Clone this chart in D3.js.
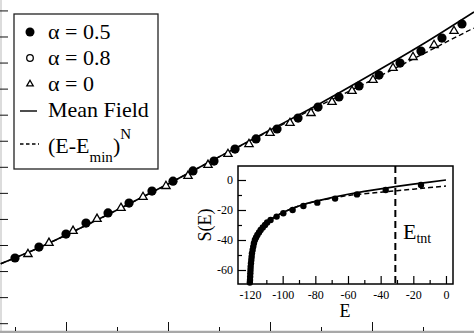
<!DOCTYPE html>
<html><head><meta charset="utf-8">
<script src="https://cdn.jsdelivr.net/npm/d3@7"></script>
<style>html,body{margin:0;padding:0;background:#fff;}svg{display:block;}
svg text{font-family:"Liberation Serif","Times New Roman",Times,"DejaVu Serif",serif !important;}</style>
</head><body>
<script>
// ---- main plot data (arbitrary units) ----
const circX = [0.5,0.735,1.0,1.196,1.412,1.618,1.843,2.049,2.245,2.451,2.657,2.863,3.069,3.275,3.471,3.676,3.873,4.069,4.275,4.480,4.686,4.882];
const circY = [2.50,2.92,3.42,3.84,4.23,4.61,5.07,5.45,5.84,6.22,6.68,7.07,7.45,7.87,8.29,8.68,9.10,9.52,9.98,10.44,10.94,11.48];
const triX = [0.627,0.833,1.069,1.304,1.539,1.755,1.980,2.196,2.392,2.588,2.794,3.0,3.196,3.402,3.608,3.804,4.010,4.206,4.402,4.608,4.804];
const triY = [2.65,3.08,3.54,4.00,4.42,4.84,5.26,5.65,6.07,6.49,6.87,7.30,7.68,8.06,8.49,8.91,9.33,9.79,10.21,10.67,11.21];
const mfX = [0.36,0.75,1.0,1.5,2.0,2.5,3.0,3.5,4.0,4.5,5.0];
const mfY = [2.28,2.92,3.38,4.34,5.34,6.38,7.41,8.45,9.56,10.71,11.94];
const pwX = [0.36,0.75,1.0,1.5,2.0,2.5,3.0,3.5,4.0,4.5,5.0];
const pwY = [2.28,2.92,3.38,4.34,5.34,6.38,7.38,8.37,9.33,10.33,11.33];
const mainYTicks = [0,1,2,3,4,5,6,7,8,9,10,11,12];
const mainXMajor = [1,2,3,4];
const mainXMinor = [0.5,1.5,2.5,3.5,4.5];
const legendLabels = ["α = 0.5","α = 0.8","α = 0","Mean Field"];

// ---- inset data ----
const inE = [-15.3,-36.9,-54.5,-67.9,-78.8,-87.3,-93.9,-99.6,-103.7,-107.4,-109.5,-110.8,-112.2,-113.5,-114.5,-115.5,-116.3,-117.0,-117.6,-118.0,-118.4,-118.8,-119.0,-119.2,-119.4,-119.6,-119.7,-119.8,-119.9,-120.0,-120.1];
const inS = [-3.3,-6.7,-9.6,-12.4,-15.1,-17.3,-20.0,-22.2,-24.4,-26.7,-28.3,-30.0,-31.7,-33.3,-35.0,-36.7,-38.3,-40.0,-42.2,-44.4,-46.7,-48.9,-51.1,-53.3,-55.5,-57.8,-60.0,-62.2,-64.4,-66.7,-68.3];
const inMfE = [-120.4,-120.0,-119.5,-118.8,-118.0,-116.5,-114.5,-112.0,-110.0,-107.0,-104.0,-100.0,-95.0,-90.0,-85.0,-80.0,-70.0,-60.0,-50.0,-40.0,-30.0,-20.0,-10.0,0.0];
const inMfS = [-69,-62,-55,-49.5,-45,-39.5,-35,-31.3,-29,-26.2,-24,-21.7,-19.3,-17.3,-15.6,-14.2,-11.7,-9.5,-7.6,-5.9,-4.3,-2.8,-1.4,0];
const inPwE = [-120.4,-120.0,-119.5,-118.8,-118.0,-116.5,-114.5,-112.0,-110.0,-107.0,-104.0,-100.0,-95.0,-90.0,-85.0,-80.0,-70.0,-60.0,-50.0,-40.0,-30.0,-20.0,-10.0,0.0];
const inPwS = [-69,-62,-55,-49.5,-45,-39.5,-35,-31.3,-29,-26.2,-24,-21.7,-19.3,-17.3,-15.6,-14.3,-12.1,-10.3,-9.1,-8.1,-7.2,-6.1,-5.0,-4.0];
const inXTicks = [-120,-100,-80,-60,-40,-20,0];
const inXMinor = [-110,-90,-70,-50,-30,-10];
const inYTicks = [0,-20,-40,-60];
const inYMinor = [-10,-30,-50];
const eTnt = -31;

const W = 474, H = 333;
const svg = d3.select("body").append("svg").attr("width", W).attr("height", H);

// main scales
const x = d3.scaleLinear().domain([(1+36)/102, 5.0]).range([1, 474]);
const y = d3.scaleLinear().domain([-0.3, 12.4]).range([331, 0]);

// spines
svg.append("line").attr("x1",1).attr("x2",1).attr("y1",0).attr("y2",H).attr("stroke","#dcdcdc").attr("stroke-width",2);
svg.append("line").attr("x1",0).attr("x2",W).attr("y1",332).attr("y2",332).attr("stroke","#a8a8a8").attr("stroke-width",2.5);

// main ticks
const gl = svg.append("g")
  .call(d3.axisLeft(y).tickValues(mainYTicks).tickSizeInner(-8).tickSizeOuter(0).tickFormat(""));
gl.select(".domain").remove();
gl.selectAll("line").attr("stroke","#111");
const gb = svg.append("g").attr("transform","translate(0,331)")
  .call(d3.axisBottom(x).tickValues(mainXMajor).tickSizeInner(-9).tickSizeOuter(0).tickFormat(""));
gb.select(".domain").remove();
gb.selectAll("line").attr("stroke","#111");
const gb2 = svg.append("g").attr("transform","translate(0,331)")
  .call(d3.axisBottom(x).tickValues(mainXMinor).tickSizeInner(-4).tickSizeOuter(0).tickFormat(""));
gb2.select(".domain").remove();
gb2.selectAll("line").attr("stroke","#111");

// main lines
const lineMain = d3.line().x(d=>x(d[0])).y(d=>y(d[1])).curve(d3.curveMonotoneX);
svg.append("path").datum(d3.zip(pwX,pwY)).attr("d",lineMain).attr("fill","none").attr("stroke","#000").attr("stroke-width",1.4).attr("stroke-dasharray","5,3");
svg.append("path").datum(d3.zip(mfX,mfY)).attr("d",lineMain).attr("fill","none").attr("stroke","#000").attr("stroke-width",1.6);

const tri = d3.symbol().type(d3.symbolTriangle).size(30);
svg.append("g").selectAll("path").data(d3.zip(triX,triY)).join("path")
  .attr("d",tri).attr("transform",d=>`translate(${x(d[0])},${y(d[1])})`)
  .attr("fill","#fff").attr("stroke","#000").attr("stroke-width",1.3);
svg.append("g").selectAll("circle").data(d3.zip(circX,circY)).join("circle")
  .attr("cx",d=>x(d[0])).attr("cy",d=>y(d[1])).attr("r",4.6).attr("fill","#000");

// legend
const lg = svg.append("g");
lg.append("rect").attr("x",14).attr("y",14).attr("width",144).attr("height",155).attr("fill","#fff").attr("stroke","#222").attr("stroke-width",1.3);
lg.append("circle").attr("cx",30).attr("cy",32).attr("r",4.5).attr("fill","#000");
lg.append("circle").attr("cx",30).attr("cy",58).attr("r",3.3).attr("fill","#fff").attr("stroke","#000").attr("stroke-width",1.3);
lg.append("path").attr("d",d3.symbol().type(d3.symbolTriangle).size(18)).attr("transform","translate(30,84)").attr("fill","#fff").attr("stroke","#000").attr("stroke-width",1.3);
lg.append("line").attr("x1",20).attr("x2",37).attr("y1",111).attr("y2",111).attr("stroke","#000").attr("stroke-width",1.4);
lg.append("line").attr("x1",20).attr("x2",39).attr("y1",144).attr("y2",144).attr("stroke","#000").attr("stroke-width",1.3).attr("stroke-dasharray","3.5,2.5");
const baselines = [39,65,91,117];
legendLabels.forEach((t,i)=>{
  lg.append("text").attr("x",48).attr("y",baselines[i]).attr("font-size",22).text(t);
});
const tp = lg.append("text").attr("x",48).attr("y",153).attr("font-size",22);
tp.append("tspan").text("(E-E");
tp.append("tspan").attr("font-size",15).attr("dy",9).text("min");
tp.append("tspan").attr("dy",-9).text(")");
tp.append("tspan").attr("font-size",15).attr("dy",-14).text("N");

// ---- inset ----
const ix = d3.scaleLinear().domain([-127.35, 4.3]).range([238, 453]);
const iy = d3.scaleLinear().domain([-69.33, 9.33]).range([284, 166]);
const ins = svg.append("g");
ins.append("rect").attr("x",238).attr("y",166).attr("width",215).attr("height",118).attr("fill","#fff");

const ax1 = ins.append("g").attr("transform","translate(0,284)")
  .call(d3.axisBottom(ix).tickValues(inXTicks).tickSizeInner(-8).tickSizeOuter(0).tickPadding(6.5).tickFormat(d=>d));
const ax2 = ins.append("g").attr("transform","translate(0,284)")
  .call(d3.axisBottom(ix).tickValues(inXMinor).tickSizeInner(-4).tickSizeOuter(0).tickFormat(""));
const ay1 = ins.append("g").attr("transform","translate(238,0)")
  .call(d3.axisLeft(iy).tickValues(inYTicks).tickSizeInner(-8).tickSizeOuter(0).tickPadding(5).tickFormat(d=>d));
const ay2 = ins.append("g").attr("transform","translate(238,0)")
  .call(d3.axisLeft(iy).tickValues(inYMinor).tickSizeInner(-4).tickSizeOuter(0).tickFormat(""));
[ax1,ax2,ay1,ay2].forEach(g=>{
  g.select(".domain").remove();
  g.attr("font-family",null);
  g.selectAll("line").attr("stroke","#000").attr("stroke-width",1.2);
  g.selectAll("text").attr("font-size",12).attr("fill","#000");
});

const lineIn = d3.line().x(d=>ix(d[0])).y(d=>iy(d[1]));
ins.append("path").datum(d3.zip(inPwE,inPwS)).attr("d",lineIn).attr("fill","none").attr("stroke","#000").attr("stroke-width",1.5).attr("stroke-dasharray","5,3");
ins.append("path").datum(d3.zip(inMfE,inMfS)).attr("d",lineIn).attr("fill","none").attr("stroke","#000").attr("stroke-width",1.7);
ins.append("g").selectAll("circle").data(d3.zip(inE,inS)).join("circle")
  .attr("cx",d=>ix(d[0])).attr("cy",d=>iy(d[1])).attr("r",3.2).attr("fill","#000");

ins.append("line").attr("x1",ix(eTnt)).attr("x2",ix(eTnt)).attr("y1",166).attr("y2",284)
  .attr("stroke","#000").attr("stroke-width",2).attr("stroke-dasharray","7,4");
ins.append("rect").attr("x",238).attr("y",166).attr("width",215).attr("height",118).attr("fill","none").attr("stroke","#000").attr("stroke-width",1.5);

const et = ins.append("text").attr("x",403).attr("y",239).attr("font-size",22);
et.append("tspan").text("E");
et.append("tspan").attr("font-size",14).attr("dy",4).text("tnt");
ins.append("text").attr("x",345).attr("y",317).attr("text-anchor","middle").attr("font-size",18).text("E");
ins.append("text").attr("transform","translate(211,225) rotate(-90)").attr("text-anchor","middle").attr("font-size",18).text("S(E)");
</script>
</body></html>
